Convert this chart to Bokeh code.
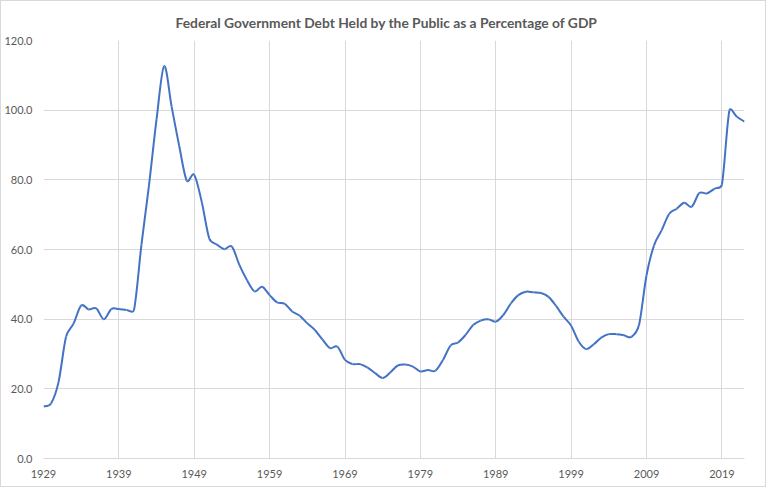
from bokeh.plotting import figure
from bokeh.models import FixedTicker, NumeralTickFormatter, Range1d, ColumnDataSource
from bokeh.embed import file_html
from bokeh.resources import INLINE
import math

# ---- data ----
years = list(range(1929, 2023))
debt_pct_gdp = [
    14.9, 15.8, 22.0, 35.0, 38.8, 43.9, 42.8, 43.1, 40.0, 42.9,   # 1929-1938
    42.9, 42.6, 42.6, 61.5, 78.5, 97.4, 112.6, 101.0, 89.8, 79.8,  # 1939-1948
    81.4, 73.6, 63.1, 61.4, 60.1, 60.8, 55.5, 51.2, 48.0, 49.3,    # 1949-1958
    46.9, 44.8, 44.4, 42.2, 41.0, 38.8, 36.9, 34.2, 31.7, 32.1,    # 1959-1968
    28.3, 27.1, 27.1, 26.1, 24.5, 23.1, 24.7, 26.7, 27.0, 26.4,    # 1969-1978
    25.0, 25.4, 25.2, 28.3, 32.4, 33.3, 35.5, 38.3, 39.6, 40.0,    # 1979-1988
    39.3, 41.2, 44.5, 46.9, 47.9, 47.7, 47.5, 46.4, 43.8, 40.7,    # 1989-1998
    38.1, 33.6, 31.4, 32.8, 34.7, 35.7, 35.7, 35.4, 34.9, 38.3,    # 1999-2008
    52.6, 61.2, 65.5, 70.2, 71.7, 73.4, 72.3, 76.2, 76.1, 77.4,    # 2009-2018
    78.6, 99.9, 98.1, 96.7,                                        # 2019-2022
]
assert len(years) == len(debt_pct_gdp)
x_ticks = list(range(1929, 2020, 10))
y_ticks = [0, 20, 40, 60, 80, 100, 120]
title_text = "Federal Government Debt Held by the Public as a Percentage of GDP"

# ---- smoothed line (Excel-like) via bezier segments derived from the data ----
SX, SY = 7.54, 3.5  # approx px per data unit, used only to limit overshoot
n = len(years)
def seg_len(i, j):
    return math.hypot((years[j] - years[i]) * SX, (debt_pct_gdp[j] - debt_pct_gdp[i]) * SY)

def tangent(i):
    pm, pp = max(i - 1, 0), min(i + 1, n - 1)
    return ((years[pp] - years[pm]) / 6.0, (debt_pct_gdp[pp] - debt_pct_gdp[pm]) / 6.0)

def capped(i, j, t):
    tl = math.hypot(t[0] * SX, t[1] * SY)
    cap = 0.5 * seg_len(i, j)
    if tl > cap and tl > 0:
        f = cap / tl
        return (t[0] * f, t[1] * f)
    return t

x0, y0, x1, y1, cx0, cy0, cx1, cy1 = ([] for _ in range(8))
for i in range(n - 1):
    ta = capped(i, i + 1, tangent(i))
    tb = capped(i + 1, i, tangent(i + 1))
    x0.append(years[i]); y0.append(debt_pct_gdp[i])
    x1.append(years[i + 1]); y1.append(debt_pct_gdp[i + 1])
    cx0.append(years[i] + ta[0]); cy0.append(debt_pct_gdp[i] + ta[1])
    cx1.append(years[i + 1] - tb[0]); cy1.append(debt_pct_gdp[i + 1] - tb[1])
src = ColumnDataSource(dict(x0=x0, y0=y0, x1=x1, y1=y1, cx0=cx0, cy0=cy0, cx1=cx1, cy1=cy1))

p = figure(width=766, height=487, output_backend="svg", toolbar_location=None,
           x_range=Range1d(years[0], years[-1]), y_range=Range1d(0, 120),
           min_border_left=40, min_border_right=23, min_border_top=37, min_border_bottom=30)
p.styles = {"border": "1px solid #d9d9d9"}

p.bezier(x0="x0", y0="y0", x1="x1", y1="y1", cx0="cx0", cy0="cy0", cx1="cx1", cy1="cy1",
         source=src, line_color="#4472C4", line_width=2)

p.title.text = title_text
p.title.align = "left"
p.title.offset = 132
p.title.text_font = "Lato"
p.title.text_font_style = "bold"
p.title.text_font_size = "13.8px"
p.title.text_color = "#595959"
p.title.standoff = 20

p.outline_line_color = None
p.background_fill_color = "white"
p.border_fill_color = "white"

p.xaxis.ticker = FixedTicker(ticks=x_ticks)
p.yaxis.ticker = FixedTicker(ticks=y_ticks)
p.yaxis.formatter = NumeralTickFormatter(format="0.0")
for ax in (p.xaxis[0], p.yaxis[0]):
    ax.major_tick_line_color = None
    ax.minor_tick_line_color = None
    ax.major_label_text_font = "Lato"
    ax.major_label_text_font_size = "11px"
    ax.major_label_text_color = "#595959"
    ax.major_label_standoff = 5
p.xaxis.axis_line_color = "#d9d9d9"
p.yaxis.axis_line_color = None

p.xgrid.ticker = FixedTicker(ticks=x_ticks)
p.ygrid.ticker = FixedTicker(ticks=y_ticks)
p.grid.grid_line_color = "#d9d9d9"
p.grid.grid_line_width = 1

open("out.html", "w").write(file_html(p, INLINE))
